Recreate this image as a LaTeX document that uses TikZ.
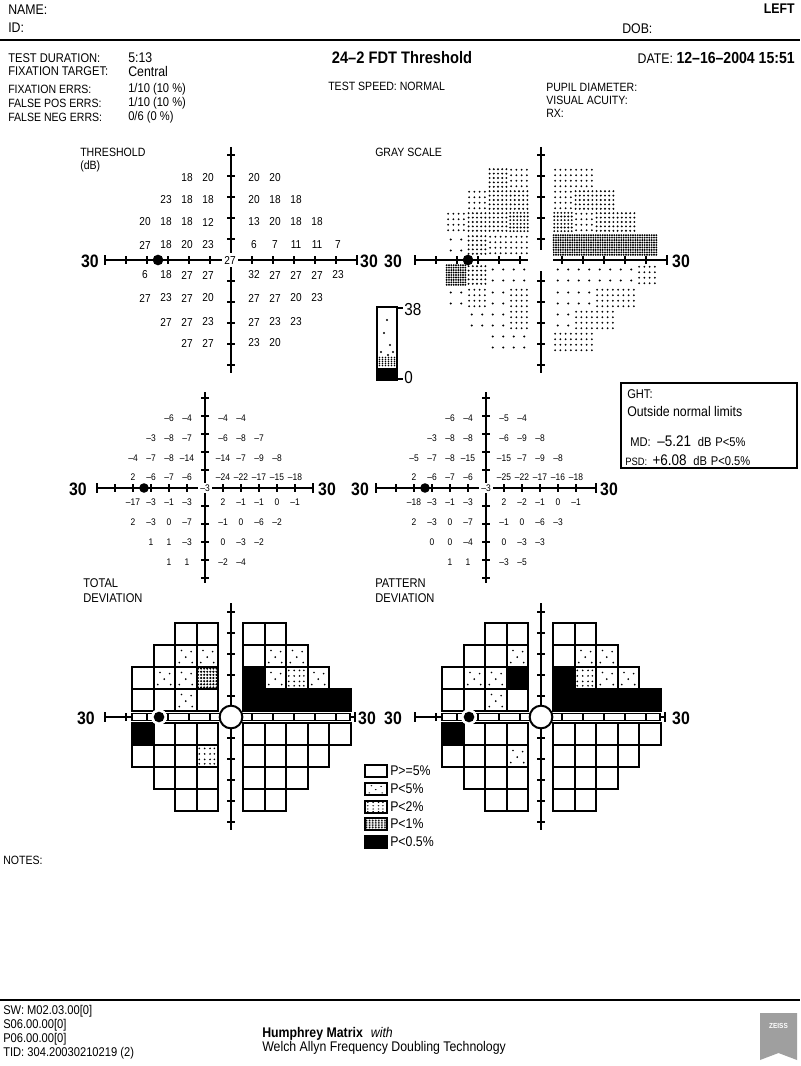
\documentclass[tikz,border=0pt]{standalone}
\usepackage{fontspec}
\setmainfont[FakeStretch=0.88]{Liberation Sans}
\usetikzlibrary{patterns}
\newcommand\fs[1]{\fontsize{#1}{#1}\selectfont}
\tikzset{
 txt/.style={inner sep=0pt,anchor=west,font=\fs{9.5}},
 num/.style={inner sep=0pt,font=\fs{8.6}},
 dnum/.style={inner sep=0pt,font=\fs{7.2}},
 big/.style={inner sep=0pt,font=\bfseries\fs{13.5}},
 axl/.style={line width=1.3pt},
 tkl/.style={line width=0.9pt},
 sq/.style={line width=1.5pt},
}
\newcommand\axsys[6]{%
 \draw[axl] ({#1-#3},#2)--({#1+#3},#2);
 \draw[axl] (#1,{#2-#4})--(#1,{#2+#5});
 \draw[tkl] ({#1-#3},#2-5)--({#1-#3},#2+5) ({#1+#3},#2-5)--({#1+#3},#2+5);
 \foreach \k in {1,...,5}{\draw[tkl] ({#1-#6*\k},#2-4)--({#1-#6*\k},#2+4) ({#1+#6*\k},#2-4)--({#1+#6*\k},#2+4) ({#1-4},{#2-#6*\k})--({#1+4},{#2-#6*\k}) ({#1-4},{#2+#6*\k})--({#1+4},{#2+#6*\k});}%
}
\newcommand\nrow[8]{%
 \foreach \v [count=\c] in {#7} \node[#6] at ({#1-#4-#5*(\c-1)},{#2+#3}) {\v};
 \foreach \v [count=\c] in {#8} \node[#6] at ({#1+#4+#5*(\c-1)},{#2+#3}) {\v};}
\newcommand\gcell[3]{%
 \pgfmathtruncatemacro\nn{#3>=27?2:(#3>=19?4:(#3>=14?5:(#3>=12?6:9)))}%
 \foreach \i in {1,...,\nn}{\foreach \j in {1,...,\nn}{\fill ({#1-10.5+(\i-0.5)*21/\nn},{#2-11+(\j-0.5)*22/\nn}) circle (0.8pt);}}}
\newcommand\grow[5]{%
 \foreach \v [count=\c] in {#4} {\gcell{#1-22-21*(\c-1)}{#2+#3}{\v}}
 \foreach \v [count=\c] in {#5} {\gcell{#1+22+21*(\c-1)}{#2+#3}{\v}}}
\newcommand\pcell[3]{%
 \ifcase#3
  \draw[sq] ({#1},{#2}) rectangle ++(21.5,22);
 \or
  \draw[sq] ({#1},{#2}) rectangle ++(21.5,22);
  \foreach \a/\b in {0.3/0.25,0.75/0.3,0.5/0.55,0.2/0.8,0.8/0.8}{\fill ({#1+21.5*\a},{#2+22*\b}) circle (0.7pt);}
 \or
  \draw[sq] ({#1},{#2}) rectangle ++(21.5,22);
  \foreach \a in {0.2,0.45,0.7,0.9}{\foreach \b in {0.2,0.45,0.7,0.9}{\fill ({#1+21.5*\a-1.5},{#2+22*\b-1}) circle (0.7pt);}}
 \or
  \draw[sq] ({#1},{#2}) rectangle ++(21.5,22);
  \foreach \a in {1,...,7}{\foreach \b in {1,...,7}{\fill ({#1+21.5*(\a-0.5)/7},{#2+22*(\b-0.5)/7}) circle (0.9pt);}}
 \else
  \filldraw[sq] ({#1},{#2}) rectangle ++(21.5,22);
 \fi}
\newcommand\prowL[3]{\foreach \t [count=\c] in {#3} {\pcell{#1-13-21.5*\c}{#2}{\t}}}
\newcommand\prowR[3]{\foreach \t [count=\c] in {#3} {\pcell{#1+12+21.5*\c-21.5}{#2}{\t}}}
\newcommand\paxes[2]{%
 \draw[axl] ({#1-126},#2)--({#1+124},#2);
 \filldraw[fill=white,line width=0.9pt] ({#1-99},{#2-3.5}) rectangle ({#1+119},{#2+3.5});
 \draw[axl] (#1,{#2-114})--(#1,{#2+113});
 \draw[tkl] ({#1-126},#2-5)--({#1-126},#2+5) ({#1+124},#2-5)--({#1+124},#2+5);
 \foreach \k in {1,...,5}{\draw[tkl] ({#1-21*\k},#2-4)--({#1-21*\k},#2+4) ({#1+21*\k},#2-4)--({#1+21*\k},#2+4) ({#1-4},{#2-21*\k})--({#1+4},{#2-21*\k}) ({#1-4},{#2+21*\k})--({#1+4},{#2+21*\k});}%
 \filldraw[fill=white,line width=1.5pt] (#1,#2) circle (8.5pt);
 \fill[white] ({#1-72},#2) circle (6pt);
 \fill ({#1-72},#2) circle (4pt);
}
\begin{document}
\begin{tikzpicture}[x=0.75pt,y=-0.75pt]
\useasboundingbox (0,0) rectangle (800,1066);
\fill[white] (0,0) rectangle (800,1066);
\node[txt,font=\fs{10.5}] (name) at (8,10) {NAME:};
\node[txt,font=\fs{10.5}] (id) at (8,28) {ID:};
\node[txt,anchor=east,font=\bfseries\fs{10.5}] (left) at (795,9) {LEFT};
\node[txt,font=\fs{10.5}] (dob) at (622,29) {DOB:};
\draw[line width=1.6pt] (0,40)--(800,40);
\node[txt] (td) at (8,58) {TEST DURATION:};
\node[txt,font=\fs{10.5}] (tdv) at (128,58) {5:13};
\node[txt] (ft) at (8,71) {FIXATION TARGET:};
\node[txt,font=\fs{10.5}] (ftv) at (128,71) {Central};
\node[txt,font=\fs{9}] (fe) at (8,89) {FIXATION ERRS:};
\node[txt] (fev) at (128,89) {1/10 (10 \%)};
\node[txt,font=\fs{9}] (fp) at (8,103) {FALSE POS ERRS:};
\node[txt] (fpv) at (128,103) {1/10 (10 \%)};
\node[txt,font=\fs{9}] (fn) at (8,117) {FALSE NEG ERRS:};
\node[txt] (fnv) at (128,117) {0/6 (0 \%)};
\node[inner sep=0pt,font=\bfseries\fs{12.5}] (title) at (402,58) {24–2 FDT Threshold};
\node[txt,font=\fs{9}] (speed) at (328,86) {TEST SPEED: NORMAL};
\node[txt,anchor=east,font=\fs{10.5}] (date) at (795,58) {DATE: \textbf{\fs{12}12–16–2004 15:51}};
\node[txt,font=\fs{9}] (pd) at (546,87) {PUPIL DIAMETER:};
\node[txt,font=\fs{9}] (va) at (546,100) {VISUAL ACUITY:};
\node[txt,font=\fs{9}] (rx) at (546,113) {RX:};
\node[txt,font=\fs{9}] (thr) at (80,152) {THRESHOLD};
\node[txt,font=\fs{9}] (db) at (80,166) {(dB)};
\axsys{231}{260}{126}{113}{113}{21}
\fill (158,260) circle (4pt);
\node[num,fill=white,inner sep=2pt] (c27) at (230,260) {27};
\nrow{231}{260}{-82}{23}{21}{num}{20,18}{20,20}
\nrow{231}{260}{-60}{23}{21}{num}{18,18,23}{20,18,18}
\nrow{231}{260}{-38}{23}{21}{num}{12,18,18,20}{13,20,18,18}
\nrow{231}{260}{-15}{23}{21}{num}{23,20,18,27}{6,7,11,11,7}
\nrow{231}{260}{15}{23}{21}{num}{27,27,18,6}{32,27,27,27,23}
\nrow{231}{260}{38}{23}{21}{num}{20,27,23,27}{27,27,20,23}
\nrow{231}{260}{62}{23}{21}{num}{23,27,27}{27,23,23}
\nrow{231}{260}{83}{23}{21}{num}{27,27}{23,20}
\node[big] (t30l) at (90,261) {30};
\node[big] (t30r) at (369,261) {30};
\node[txt,font=\fs{9}] (gs) at (375,152) {GRAY SCALE};
\grow{541}{260}{-82}{20,18}{20,20}
\grow{541}{260}{-60}{18,18,23}{20,18,18}
\grow{541}{260}{-38}{12,18,18,20}{13,20,18,18}
\grow{541}{260}{-15}{23,20,18,27}{6,7,11,11,7}
\grow{541}{260}{15}{27,27,18,6}{32,27,27,27,23}
\grow{541}{260}{38}{20,27,23,27}{27,27,20,23}
\grow{541}{260}{60}{23,27,27}{27,23,23}
\grow{541}{260}{82}{27,27}{23,20}
\axsys{541}{260}{126}{113}{113}{21}
\fill[white] (528,250) rectangle (553,271);
\fill (468,260) circle (4pt);
\node[big] (g30l) at (393,261) {30};
\node[big] (g30r) at (681,261) {30};
\draw[line width=1.2pt] (377,307) rectangle (397,380);
\fill (377,368) rectangle (397,380);
\foreach \a/\b in {387/320,384/333,390/345,381/352,388/355,393/352}{\fill (\a,\b) circle (0.8pt);}
\foreach \a in {379.5,382.5,385.5,388.5,391.5,394.5}{\foreach \b in {357.5,359.5,361.5,363.5,365.5}{\fill (\a,\b) circle (0.7pt);}}
\draw[line width=1.2pt] (397,308)--(403,308) (397,379)--(403,379);
\node[txt,font=\fs{13}] (s38) at (404,310) {38};
\node[txt,font=\fs{13}] (s0) at (404,378) {0};
\axsys{205}{488}{108}{96}{95}{18}
\fill (144,488) circle (3.6pt);
\node[dnum,fill=white,inner sep=1.5pt] (tdc) at (205,488) {–3};
\nrow{205}{488}{-70}{18}{18}{dnum}{–4,–6}{–4,–4}
\nrow{205}{488}{-50}{18}{18}{dnum}{–7,–8,–3}{–6,–8,–7}
\nrow{205}{488}{-30}{18}{18}{dnum}{–14,–8,–7,–4}{–14,–7,–9,–8}
\nrow{205}{488}{-11}{18}{18}{dnum}{–6,–7,–6,2}{–24,–22,–17,–15,–18}
\nrow{205}{488}{14}{18}{18}{dnum}{–3,–1,–3,–17}{2,–1,–1,0,–1}
\nrow{205}{488}{34}{18}{18}{dnum}{–7,0,–3,2}{–1,0,–6,–2}
\nrow{205}{488}{54}{18}{18}{dnum}{–3,1,1}{0,–3,–2}
\nrow{205}{488}{74}{18}{18}{dnum}{1,1}{–2,–4}
\node[big] (d30l) at (78,489) {30};
\node[big] (d30r) at (327,489) {30};
\axsys{486}{488}{110}{96}{95}{18}
\fill (425,488) circle (3.6pt);
\node[dnum,fill=white,inner sep=1.5pt] (pdc) at (486,488) {–3};
\nrow{486}{488}{-70}{18}{18}{dnum}{–4,–6}{–5,–4}
\nrow{486}{488}{-50}{18}{18}{dnum}{–8,–8,–3}{–6,–9,–8}
\nrow{486}{488}{-30}{18}{18}{dnum}{–15,–8,–7,–5}{–15,–7,–9,–8}
\nrow{486}{488}{-11}{18}{18}{dnum}{–6,–7,–6,2}{–25,–22,–17,–16,–18}
\nrow{486}{488}{14}{18}{18}{dnum}{–3,–1,–3,–18}{2,–2,–1,0,–1}
\nrow{486}{488}{34}{18}{18}{dnum}{–7,0,–3,2}{–1,0,–6,–3}
\nrow{486}{488}{54}{18}{18}{dnum}{–4,0,0}{0,–3,–3}
\nrow{486}{488}{74}{18}{18}{dnum}{1,1}{–3,–5}
\node[big] (p30l) at (360,489) {30};
\node[big] (p30r) at (609,489) {30};
\draw[line width=1.2pt] (621,383) rectangle (797,468);
\node[txt,font=\fs{9.5}] (ght) at (627,394) {GHT:};
\node[txt,font=\fs{10.5}] (onl) at (627,411) {Outside normal limits};
\node[txt,font=\fs{9.5}] (md) at (630,441) {MD:\hspace{5pt}{\fs{11.5}–5.21}\hspace{5pt}dB\hspace{3pt}P<5\%};
\node[txt,font=\fs{8}] (psd) at (625,460) {PSD:\hspace{4pt}{\fs{11.5}+6.08}\hspace{5pt}{\fs{9.5}dB\hspace{3pt}P<0.5\%}};
\node[txt,font=\fs{9.5}] (tot) at (83,583) {TOTAL};
\node[txt,font=\fs{9.5}] (totd) at (83,598) {DEVIATION};
\node[txt,font=\fs{9.5}] (pat) at (375,583) {PATTERN};
\node[txt,font=\fs{9.5}] (patd) at (375,598) {DEVIATION};
\prowL{231}{689}{0,1,0,0}
\prowL{231}{667}{3,1,1,0}
\prowL{231}{645}{1,1,0}
\prowL{231}{623}{0,0}
\prowR{231}{689}{4,4,4,4,4}
\prowR{231}{667}{4,1,2,1}
\prowR{231}{645}{0,1,1}
\prowR{231}{623}{0,0}
\prowL{231}{723}{0,0,0,4}
\prowL{231}{745}{2,0,0,0}
\prowL{231}{767}{0,0,0}
\prowL{231}{789}{0,0}
\prowR{231}{723}{0,0,0,0,0}
\prowR{231}{745}{0,0,0,0}
\prowR{231}{767}{0,0,0}
\prowR{231}{789}{0,0}
\paxes{231}{717}
\node[big] (m30l) at (86,718) {30};
\node[big] (m30r) at (367,718) {30};
\prowL{541}{689}{0,1,0,0}
\prowL{541}{667}{4,1,1,0}
\prowL{541}{645}{1,0,0}
\prowL{541}{623}{0,0}
\prowR{541}{689}{4,4,4,4,4}
\prowR{541}{667}{4,2,1,1}
\prowR{541}{645}{0,1,1}
\prowR{541}{623}{0,0}
\prowL{541}{723}{0,0,0,4}
\prowL{541}{745}{1,0,0,0}
\prowL{541}{767}{0,0,0}
\prowL{541}{789}{0,0}
\prowR{541}{723}{0,0,0,0,0}
\prowR{541}{745}{0,0,0,0}
\prowR{541}{767}{0,0,0}
\prowR{541}{789}{0,0}
\paxes{541}{717}
\node[big] (n30l) at (393,718) {30};
\node[big] (n30r) at (681,718) {30};
\foreach \yy/\t/\lab [count=\i] in {771/0/P>=5\%,789/1/P<5\%,807/2/P<2\%,824/3/P<1\%,842/4/P<0.5\%}{
 \begin{scope}[shift={(365,\yy-6.5)},yscale=0.59,xscale=1]
 \pcell{0}{0}{\t}
 \end{scope}
 \node[txt,font=\fs{10.5}] (lg\i) at (390,\yy) {\lab};}
\node[txt,font=\fs{9}] (notes) at (3,860) {NOTES:};
\draw[line width=1.6pt] (0,1000)--(800,1000);
\node[txt,font=\fs{9.5}] (sw) at (3,1011) {SW: M02.03.00[0]};
\node[txt,font=\fs{9.5}] (s06) at (3,1025) {S06.00.00[0]};
\node[txt,font=\fs{9.5}] (p06) at (3,1039) {P06.00.00[0]};
\node[txt,font=\fs{9.5}] (tid) at (3,1053) {TID: 304.20030210219 (2)};
\node[txt,font=\fs{10.5}] (hm) at (262,1034) {\textbf{Humphrey Matrix}\hspace{6pt}\textit{with}};
\node[txt,font=\fs{10.5}] (wa) at (262,1048) {Welch Allyn Frequency Doubling Technology};
\fill[gray!75] (760,1013)--(797,1013)--(797,1060)--(778.5,1053)--(760,1060)--cycle;
\node[inner sep=0pt,font=\bfseries\fs{5.5},text=white] (zeiss) at (778.5,1026) {ZEISS};
\end{tikzpicture}
\end{document}
